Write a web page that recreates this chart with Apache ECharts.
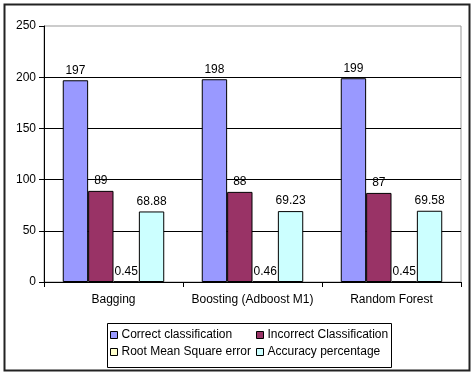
<!DOCTYPE html>
<html>
<head>
<meta charset="utf-8">
<script src="https://cdn.jsdelivr.net/npm/echarts@6/dist/echarts.min.js"></script>
<style>
  html, body { margin: 0; padding: 0; background: #fff; }
  #chart { width: 474px; height: 376px; }
</style>
</head>
<body>
<div id="chart"></div>
<script>
  // categories / values
  const methods = ['Bagging', 'Boosting (Adboost M1)', 'Random Forest'];
  const correctVals = [197, 198, 199];
  const incorrectVals = [89, 88, 87];
  const rmseVals = [0.45, 0.46, 0.45];
  const accuracyVals = [68.88, 69.23, 69.58];
  const yTicks = [0, 50, 100, 150, 200, 250];

  const seriesNames = ['Correct classification', 'Incorrect Classification', 'Root Mean Square error', 'Accuracy percentage'];
  const seriesColors = ['#9999ff', '#993366', '#ffffcc', '#ccffff'];
  const seriesData = [correctVals, incorrectVals, rmseVals, accuracyVals];

  const font = 'Liberation Sans, Arial, sans-serif';

  let chart = echarts.init(document.getElementById('chart'), null, { renderer: 'canvas' });

  // one legend per item so the two columns line up like the original
  const legendPos = [
    { left: 110, top: 329 },
    { left: 256, top: 329 },
    { left: 110, top: 346 },
    { left: 256, top: 346 }
  ];
  let legends = seriesNames.map((name, i) => ({
    data: [name],
    left: legendPos[i].left,
    top: legendPos[i].top,
    padding: 0,
    icon: 'rect',
    itemWidth: 7,
    itemHeight: 7,
    itemGap: 0,
    selectedMode: false,
    itemStyle: { borderColor: '#000', borderWidth: 1 },
    textStyle: { fontFamily: font, fontSize: 12, color: '#000', padding: [0, 0, 0, -1] }
  }));

  let option = {
    animation: false,
    backgroundColor: '#fff',
    textStyle: { fontFamily: font },
    legend: legends,
    graphic: [
      {
        type: 'rect',
        shape: { x: 4.5, y: 4.5, width: 465, height: 366 },
        style: { fill: 'none', stroke: '#222', lineWidth: 2 },
        silent: true
      },
      {
        type: 'rect',
        shape: { x: 107.5, y: 323.5, width: 284, height: 44 },
        style: { fill: 'none', stroke: '#000', lineWidth: 1 },
        silent: true
      }
    ],
    grid: {
      left: 44,
      right: 13,
      top: 26,
      bottom: 94,
      show: true,
      borderColor: '#999',
      borderWidth: 1
    },
    xAxis: {
      type: 'category',
      data: methods,
      axisLine: { lineStyle: { color: '#000', width: 1 } },
      axisTick: { show: true, length: 5, lineStyle: { color: '#000' } },
      axisLabel: { color: '#000', fontSize: 12, fontFamily: font, margin: 12, interval: 0, hideOverlap: false }
    },
    yAxis: {
      type: 'value',
      min: yTicks[0],
      max: yTicks[yTicks.length - 1],
      interval: 50,
      axisLine: { show: true, lineStyle: { color: '#000', width: 1 } },
      axisTick: { show: true, length: 5, lineStyle: { color: '#000' } },
      axisLabel: { color: '#000', fontSize: 12, fontFamily: font, margin: 8 },
      splitLine: { show: true, showMaxLine: false, lineStyle: { color: '#000', width: 1 } }
    },
    series: seriesNames.map((name, i) => ({
      name: name,
      type: 'bar',
      data: seriesData[i],
      barGap: '0%',
      barCategoryGap: '27%',
      itemStyle: { color: seriesColors[i], borderColor: '#000', borderWidth: 1 },
      label: {
        show: true,
        position: 'top',
        distance: 4,
        color: '#000',
        fontSize: 12,
        fontFamily: font
      }
    }))
  };

  if (option && typeof option === 'object') {
    chart.setOption(option);
  }
</script>
</body>
</html>
